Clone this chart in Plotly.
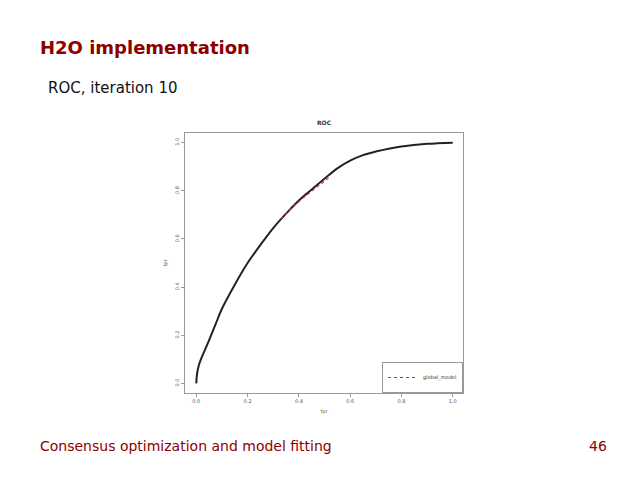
import plotly.graph_objects as go

fpr = [0.0, 0.003, 0.01, 0.02, 0.03, 0.05, 0.075, 0.1, 0.15, 0.2, 0.25, 0.3, 0.35, 0.4, 0.45, 0.5, 0.55, 0.6, 0.65, 0.7, 0.75, 0.8, 0.9, 1.0]
tpr = [0.0, 0.04, 0.075, 0.105, 0.13, 0.18, 0.245, 0.31, 0.41, 0.5, 0.575, 0.645, 0.705, 0.76, 0.805, 0.85, 0.893, 0.925, 0.948, 0.963, 0.975, 0.984, 0.995, 1.0]
glob_fpr = [0.33, 0.37, 0.41, 0.45, 0.49, 0.52]
glob_tpr = [0.683, 0.727, 0.765, 0.799, 0.832, 0.857]

W, H = 638, 479
OX, OY = 8, 8  # page offset of the figure in the browser
fig = go.Figure()
fig.add_trace(go.Scatter(x=fpr, y=tpr, mode='lines', line=dict(color='#222222', width=2, shape='spline'),
                         showlegend=False))
fig.add_trace(go.Scatter(x=glob_fpr, y=glob_tpr, mode='lines', name='global_model',
                         line=dict(color='#d03030', width=1.2, dash='dot')))

ax = dict(showgrid=False, zeroline=False, showline=True, mirror=True, linecolor='#999999',
          ticks='outside', tickcolor='#999999', ticklen=3, tickfont=dict(size=5, color='#555555'),
          tickvals=[0, 0.2, 0.4, 0.6, 0.8, 1.0], ticktext=['0.0', '0.2', '0.4', '0.6', '0.8', '1.0'])
fig.update_xaxes(**ax, range=[-0.044, 1.04], domain=[(185 - OX) / W, (463 - OX) / W],
                 title=dict(text='fpr', font=dict(size=5, color='#555555'), standoff=6))
fig.update_yaxes(**ax, range=[-0.04, 1.04], domain=[1 - (393 - OY) / H, 1 - (133 - OY) / H], tickangle=-90,
                 title=dict(text='tpr', font=dict(size=5, color='#555555'), standoff=6))

fig.update_layout(
    width=W, height=H, margin=dict(l=0, r=0, t=0, b=0),
    paper_bgcolor='white', plot_bgcolor='white',
    font=dict(family='DejaVu Sans'),
    legend=dict(x=(463 - OX) / W, y=1 - (393 - OY) / H, xanchor='right', yanchor='bottom',
                bordercolor='#999999', borderwidth=1, font=dict(size=5, color='#333333'),
                bgcolor='white', itemwidth=30, tracegroupgap=0),
    annotations=[
        dict(text='<b>ROC</b>', x=(324 - OX) / W, y=1 - 109 / H, xref='paper', yref='paper',
             showarrow=False, font=dict(size=6, color='#333333')),
        dict(text='<b>H2O implementation</b>', x=30 / W, y=1 - 27 / H, xref='paper', yref='paper',
             xanchor='left', showarrow=False, font=dict(size=18, color='#8b0000')),
        dict(text='ROC, iteration 10', x=38 / W, y=1 - 69 / H, xref='paper', yref='paper',
             xanchor='left', showarrow=False, font=dict(size=15, color='#111111')),
        dict(text='Consensus optimization and model fitting', x=30 / W, y=1 - 448 / H,
             xref='paper', yref='paper', xanchor='left', showarrow=False,
             font=dict(size=14, color='#8b0000')),
        dict(text='46', x=601 / W, y=1 - 448 / H, xref='paper', yref='paper',
             xanchor='right', showarrow=False, font=dict(size=14, color='#8b0000')),
    ],
)

fig.write_html("out.html")
